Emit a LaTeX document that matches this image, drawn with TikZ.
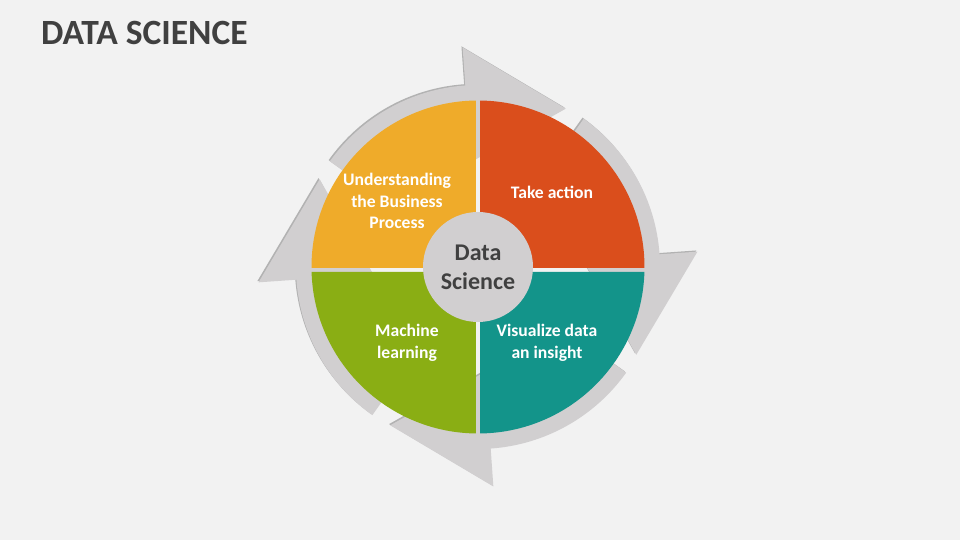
\documentclass[tikz,border=0pt]{standalone}
\usepackage{fontspec}
\setmainfont{Carlito}
\usetikzlibrary{shadows}
\definecolor{bgGray}{HTML}{F2F2F2}
\definecolor{ringGray}{HTML}{D1CFD0}
\definecolor{textGray}{HTML}{404040}
\definecolor{qOrange}{HTML}{EFAB2A}
\definecolor{qRed}{HTML}{DA4E1C}
\definecolor{qGreen}{HTML}{8AAE14}
\definecolor{qTeal}{HTML}{13948A}

\begin{document}
\begin{tikzpicture}[x=1pt, y=1pt,
    ring/.style={fill=ringGray, drop shadow={shadow xshift=-1.2pt, shadow yshift=1.2pt, opacity=.45, fill=black!60}},
    qtext/.style={text=white, align=center, font=\bfseries\fontsize{17.6}{21.5}\selectfont}]
    % Background and title
    \fill[bgGray] (-478,-273) rectangle (482,267);
    \useasboundingbox (-478,-273) rectangle (482,267);
    \node[anchor=base west, inner sep=0, text=textGray, font=\bfseries\fontsize{35.5}{40}\selectfont] (title) at (-437,222) {DATA SCIENCE};
    % Cycle arrows (back edge angle, head points clockwise)
    \foreach \b in {94,4,-86,184}
        \fill[ring] (\b+50.5:182) arc[start angle=\b+50.5, end angle=\b, radius=182]
            -- (\b:220) -- (\b-33:181) -- (\b:105) -- (\b:130)
            arc[start angle=\b, end angle=\b+50.5, radius=130] -- cycle;
    % Quadrants
    \fill[qOrange] (-2,-1) -- (90.7:166.5) arc[start angle=90.7, end angle=180.34, radius=166.5] -- cycle;
    \fill[qRed] (2,-1) -- (-0.34:166.5) arc[start angle=-0.34, end angle=89.3, radius=166.5] -- cycle;
    \fill[qTeal] (2,-5) -- (-89.3:166.5) arc[start angle=-89.3, end angle=-1.72, radius=166.5] -- cycle;
    \fill[qGreen] (-2,-5) -- (181.72:166.5) arc[start angle=181.72, end angle=269.3, radius=166.5] -- cycle;
    % Labels
    \node[qtext] (business) at (-81,66) {Understanding\\the Business\\Process};
    \node[qtext] (action) at (74,75) {Take action};
    \node[qtext] (learning) at (-71,-76) {Machine\\learning};
    \node[qtext] (visualize) at (69,-76) {Visualize data\\an insight};
    % Centre
    \node[circle, fill=ringGray, minimum size=110, inner sep=0, align=center, text=textGray,
        font=\bfseries\fontsize{24}{29}\selectfont] (core) at (0,0) {Data\\Science};
\end{tikzpicture}
\end{document}
